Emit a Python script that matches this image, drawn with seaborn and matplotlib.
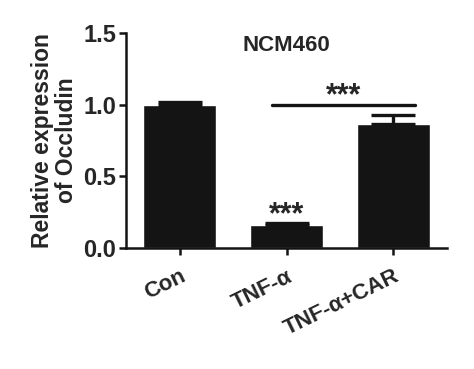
import pandas as pd
import matplotlib
matplotlib.use('Agg')
import matplotlib.pyplot as plt
import seaborn as sns

# data
groups = ['Con', 'TNF-α', 'TNF-α+CAR']
means = [1.00, 0.16, 0.865]
sems = [0.02, 0.015, 0.065]

df = pd.DataFrame({'group': groups, 'value': means})

sns.set_style('ticks')
plt.rcParams['font.family'] = ['Liberation Sans', 'DejaVu Sans']
plt.rcParams['font.weight'] = 'bold'

fig = plt.figure(figsize=(4.74, 3.69), dpi=100)
ax = fig.add_axes([0.266, 0.328, 0.677, 0.583])

sns.barplot(data=df, x='group', y='value', color='#141414', width=0.68,
            errorbar=None, saturation=1, ax=ax)
ax.errorbar(range(len(groups)), means, yerr=[[0]*len(sems), sems], fmt='none',
            ecolor='#141414', elinewidth=2.4, capsize=16, capthick=2.4)

ax.set_xlim(-0.5, 2.5)
ax.set_ylim(0, 1.5)
ax.set_yticks([0, 0.5, 1.0, 1.5])
ax.set_yticklabels(['0.0', '0.5', '1.0', '1.5'], fontsize=17, fontweight='bold')
ax.set_xticks(range(len(groups)))
ax.set_xticklabels(groups, rotation=26, ha='right', rotation_mode='anchor',
                   fontsize=16, fontweight='bold')
ax.set_xlabel('')
ax.set_ylabel('Relative expression\nof Occludin', fontsize=16.5, fontweight='bold',
              labelpad=4, linespacing=1.05)
ax.tick_params(axis='y', pad=2)
ax.tick_params(axis='x', pad=8)

for s in ['top', 'right']:
    ax.spines[s].set_visible(False)
for s in ['left', 'bottom']:
    ax.spines[s].set_linewidth(1.8)
    ax.spines[s].set_color('#141414')
ax.tick_params(axis='both', width=1.8, length=5, color='#141414')

# significance annotations
ax.plot([0.86, 2.2], [0.995, 0.995], color='#141414', lw=2.4)
ax.text(1.53, 1.06, '***', ha='center', va='center', fontsize=22, fontweight='bold')
ax.text(1.0, 0.23, '***', ha='center', va='center', fontsize=22, fontweight='bold')
ax.text(1.0, 1.41, 'NCM460', ha='center', va='center', fontsize=16, fontweight='bold')

fig.savefig('out.png', dpi=100)
